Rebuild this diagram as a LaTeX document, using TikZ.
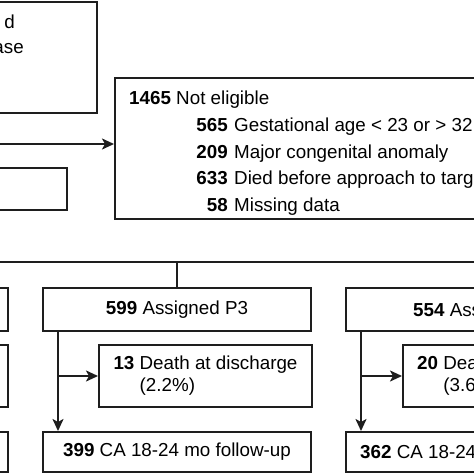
\documentclass[tikz,border=0pt]{standalone}
\usepackage{fontspec}
\setmainfont{Liberation Sans}
\usetikzlibrary{arrows.meta, positioning, calc}

\definecolor{lineDark}{HTML}{1E1E1E}

\tikzset{
	% boxes of the flow chart
	box/.style={rectangle, draw=lineDark, line width=2pt,
		inner sep=0pt, align=center,
		font=\fontsize{18.8}{22}\selectfont},
	rowA/.style={box, minimum width=268pt, minimum height=43pt},
	rowB/.style={box, minimum width=213pt, minimum height=62pt},
	rowC/.style={box, minimum width=268pt, minimum height=40pt},
	% loose text pieces
	frag/.style={inner sep=0pt, align=left,
		font=\fontsize{18.8}{22}\selectfont},
	% connectors
	arr/.style={-{Stealth[length=12pt,width=11pt,inset=3pt]},
		line width=2pt, draw=lineDark},
	link/.style={line width=2pt, draw=lineDark}
}

\begin{document}
\begin{tikzpicture}[x=1pt, y=-1pt]
	\useasboundingbox (0,0) rectangle (474,474);
	\fill[white] (0,0) rectangle (474,474);
	\clip (0,0) rectangle (474,474);

	%--- Top part ---------------------------------------------------------
	\node[box, minimum width=337pt, minimum height=111pt] (enrol) at (-71.5,57.5) {};
	\node[frag, anchor=base east] (enrol-a) at (15,28) {d};
	\node[frag, anchor=base east] (enrol-b) at (24,53) {ase};

	\node[box, minimum width=276pt, minimum height=42pt] (excl) at (-71,189) {};

	\node[box, minimum width=445pt, minimum height=141pt] (notelig) at (337.5,148.5) {};
	\node[frag, anchor=base west] (ne-head) at (129,104.5) {\textbf{1465} Not eligible};
	\foreach \n/\t [count=\i] in {565/Gestational age < 23 or > 32,
			209/Major congenital anomaly,
			633/Died before approach to targ,
			58/Missing data} {
		\node[frag, anchor=base east] (ne-n\i) at (228,{104.5+26.8*\i}) {\textbf{\n}};
		\node[frag, anchor=base west] (ne-t\i) at ([xshift=6pt]ne-n\i.base east) {\t};
	}

	\coordinate (split) at (-71,144);
	\draw[arr] (split) -- (split -| notelig.west);

	%--- Assigned groups -------------------------------------------------
	\node[rowA] (asg1) at (-126,309.5) {};
	\node[rowB] (dth1) at (-98.5,376) {};
	\node[rowC] (fu1)  at (-126,452) {};

	\node[rowA] (asg2) at (177,309.5) {\textbf{599} Assigned P3};
	\node[rowB, align=left] (dth2) at (205.5,376)
	{\textbf{13} Death at discharge\\\phantom{\textbf{13} }(2.2\%)};
	\node[rowC] (fu2)  at (177,452) {\textbf{399} CA 18-24 mo follow-up};

	\node[rowA] (asg3) at (480,309.5) {};
	\node[rowB] (dth3) at (509.5,376) {};
	\node[rowC] (fu3)  at (480,452) {};
	\node[frag, anchor=base west] (asg3-txt) at (413,316) {\textbf{554} Ass};
	\node[frag, anchor=west] (dth3-txt) at (417,376)
	{\textbf{20} Dea\\\phantom{\textbf{20} }(3.6};
	\node[frag, anchor=base west] (fu3-txt) at (360,458.5) {\textbf{362} CA 18-24};

	%--- Connectors ------------------------------------------------------
	\coordinate (bus-l) at (-126,262);
	\coordinate (bus-r) at (480,262);
	\draw[link] (bus-l) -- (bus-r);
	\foreach \g in {1,2,3} {
		\draw[link] (bus-l -| asg\g.north) -- (asg\g.north);
		\coordinate (stem\g) at ([xshift=16pt]asg\g.south west);
		\draw[arr] (stem\g) -- (stem\g |- fu\g.north);
		\draw[arr] (stem\g |- dth\g.west) -- (dth\g.west);
	}
\end{tikzpicture}
\end{document}
